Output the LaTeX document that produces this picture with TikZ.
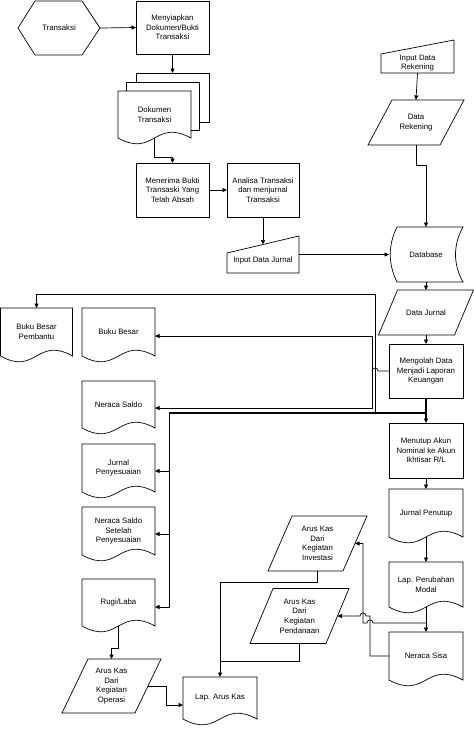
\documentclass[tikz,border=0pt]{standalone}
\usepackage{fontspec}
\setmainfont{Liberation Sans}
\usetikzlibrary{arrows.meta,calc}
\newcommand\FCdoc[1]{\draw (#1.south west) -- (#1.north west) -- (#1.north east) -- (#1.south east) .. controls ($(#1.south)+(0,-20)$) and ($(#1.south)+(0,20)$) .. (#1.south west) -- cycle;}
\newcommand\FCpara[2]{\draw ($(#1.north west)+(#2,0)$) -- (#1.north east) -- ($(#1.south east)+(-#2,0)$) -- (#1.south west) -- cycle;}
\newcommand\FCmanin[3]{\draw (#1.south west) -- ($(#1.north west)+(0,#2)$) -- ($(#1.north east)+(0,-#3)$) -- (#1.south east) -- cycle;}
\newcommand\FCdb[1]{\draw ($(#1.north west)+(8,0)$) -- (#1.north east) .. controls ($(#1.north east)+(-10,18)$) and ($(#1.south east)+(-10,-18)$) .. (#1.south east) -- ($(#1.south west)+(8,0)$) .. controls ($(#1.south west)+(-1,-18)$) and ($(#1.north west)+(-1,18)$) .. ($(#1.north west)+(8,0)$) -- cycle;}
\newcommand\FChex[1]{\draw (#1.west) -- ($(#1.north west)+(17,0)$) -- ($(#1.north east)+(-18,0)$) -- (#1.east) -- ($(#1.south east)+(-18,0)$) -- ($(#1.south west)+(17,0)$) -- cycle;}
\begin{document}
\begin{tikzpicture}[x=1pt,y=-1pt,line width=0.7pt,
  box/.style={rectangle,inner sep=1pt,outer sep=0pt,align=center,font=\fontsize{7.8}{9.6}\selectfont},
  arr/.style={-{Triangle[length=4.5pt,width=4pt]}},
  thickln/.style={line width=1.4pt}]
\useasboundingbox (0,0) rectangle (474,732);
% top left flow
\node[box,minimum width=82,minimum height=54] (trans) at (59,28) {Transaksi};
\FChex{trans}
\node[box,draw,minimum width=73,minimum height=53] (prep) at (172.5,27.5) {Menyiapkan\\Dokumen/Bukti\\Transaksi};
\node[box,draw,fill=white,minimum width=73,minimum height=49] (doc3) at (172.5,97.5) {};
\node[box,draw,fill=white,minimum width=73,minimum height=48] (doc2) at (163,106) {};
\node[box,fill=white,minimum width=73,minimum height=47] (doktr) at (154.5,114.5) {Dokumen\\Transaksi};
\FCdoc{doktr}
\node[box,draw,minimum width=73,minimum height=54] (terima) at (172.5,190) {Menerima Bukti\\Transaski Yang\\Telah Absah};
\node[box,draw,minimum width=72,minimum height=54] (analisa) at (263,190) {Analisa Transaksi\\dan menjurnal\\Transaksi};
\node[box,minimum width=72,minimum height=25] (injurnal) at (263,260.5) {Input Data Jurnal};
\FCmanin{injurnal}{5}{12}
% right column
\node[box,minimum width=73,minimum height=20] (inrek) at (417.5,63) {Input Data\\Rekening};
\FCmanin{inrek}{1}{13}
\node[box,minimum width=96,minimum height=45] (datrek) at (416,122.5) {Data\\Rekening};
\FCpara{datrek}{24}
\node[box,minimum width=74,minimum height=55] (db) at (426,254.5) {Database};
\FCdb{db}
\node[box,minimum width=95,minimum height=45] (datjur) at (426,312.5) {Data Jurnal};
\FCpara{datjur}{19}
\node[box,draw,minimum width=74,minimum height=54] (olah) at (426,371) {Mengolah Data\\Menjadi Laporan\\Keuangan};
\node[box,draw,minimum width=74,minimum height=55] (tutup) at (426,450.5) {Menutup Akun\\Nominal ke Akun\\Ikhtisar R/L};
\node[box,minimum width=74,minimum height=48] (jpenutup) at (426,513) {Jurnal Penutup};
\FCdoc{jpenutup}
\node[box,minimum width=74,minimum height=45] (lapmod) at (426,584.5) {Lap. Perubahan\\Modal};
\FCdoc{lapmod}
\node[box,minimum width=74,minimum height=48] (nsisa) at (426,656) {Neraca Sisa};
\FCdoc{nsisa}
% left column
\node[box,minimum width=72,minimum height=48] (bbp) at (36.5,332) {Buku Besar\\Pembantu};
\FCdoc{bbp}
\node[box,minimum width=73,minimum height=48] (bb) at (118.5,332) {Buku Besar};
\FCdoc{bb}
\node[box,minimum width=73,minimum height=47] (nsaldo) at (118.5,404.5) {Neraca Saldo};
\FCdoc{nsaldo}
\node[box,minimum width=73,minimum height=48] (jpeny) at (118.5,468) {Jurnal\\Penyesuaian};
\FCdoc{jpeny}
\node[box,minimum width=73,minimum height=48] (nssp) at (118.5,531) {Neraca Saldo\\Setelah\\Penyesuaian};
\FCdoc{nssp}
\node[box,minimum width=73,minimum height=47] (rl) at (118.5,602.5) {Rugi/Laba};
\FCdoc{rl}
\node[box,minimum width=99,minimum height=54] (aop) at (111.5,686) {Arus Kas\\Dari\\Kegiatan\\Operasi};
\FCpara{aop}{26}
\node[box,minimum width=74,minimum height=42] (lak) at (220,698) {Lap. Arus Kas};
\FCdoc{lak}
\node[box,minimum width=99,minimum height=55] (inv) at (317.5,543.5) {Arus Kas\\Dari\\Kegiatan\\Investasi};
\FCpara{inv}{24}
\node[box,minimum width=99,minimum height=55] (pend) at (299.5,616) {Arus Kas\\Dari\\Kegiatan\\Pendanaan};
\FCpara{pend}{23}
% connectors
\draw[arr] (trans.east) -- (prep.west);
\draw[arr] (prep.south) -- (doc3.north);
\draw[arr] (doktr.south) -- ++(0,19) -| (terima.north);
\draw[arr] (terima.east) -- (analisa.west);
\draw[arr] (analisa.south) -- ($(injurnal.north)+(0,-3.5)$);
\draw[arr] (injurnal.east |- db.west) -- (db.west);
\draw[arr] (inrek.south) -- (datrek.north);
\draw[arr] (datrek.south) -- ++(0,20) -| (db.north);
\draw[arr] (db.south) -- (datjur.north);
\draw[arr] (datjur.south) -- (olah.north);
\draw[arr,thickln] (olah.south) -- (tutup.north);
\draw[arr] (tutup.south) -- (jpenutup.north);
\draw[arr] (jpenutup.south) -- (lapmod.north);
\draw[arr] (lapmod.south) -- (nsisa.north);
\coordinate (j0) at (426,413);
\coordinate (j1) at (169,413);
\coordinate (j2) at (375,413);
\coordinate (t1) at (375,294);
\draw[thickln] (j0) -- (j1);
\draw[arr] (j2) -- (t1) -| (bbp.north);
\coordinate (h1) at (372,371);
\coordinate (b1) at (372,336);
\coordinate (b2) at (372,408);
\draw (olah.west) -- (378,371) .. controls (378,367) and (372,367) .. (h1);
\draw[arr] (h1) -- (b1) -- (bb.east |- b1);
\draw[arr] (h1) -- (b2) -- (nsaldo.east |- b2);
\coordinate (v1) at (169,471);
\coordinate (v2) at (169,534);
\coordinate (v3) at (169,607);
\draw[arr] (j1) -- (v3) -- (rl.east |- v3);
\draw[arr] (v1) -- (jpeny.east |- v1);
\draw[arr] (v2) -- (nssp.east |- v2);
\draw[arr] (rl.south) -- ++(0,22) -| (aop.north);
\coordinate (a2) at (166,705);
\draw[arr] ($(aop.east)+(-13,0)$) -| (a2) -- (lak.west |- a2);
\draw[arr] (inv.south) -- ++(0,11) -| (lak.north);
\coordinate (m1) at (220,661);
\draw (pend.south) |- (m1);
\coordinate (g0) at (426,623);
\draw[arr] (g0) -- (373,623) .. controls (373,619) and (367,619) .. (367,623) -- (363,623) -- (363,543.5) -- ($(inv.east)+(-12,0)$);
\draw[arr] (nsisa.west) -- (370,656) -- (370,616) -- (366,616) .. controls (366,612) and (360,612) .. (360,616) -- ($(pend.east)+(-11.5,0)$);
\end{tikzpicture}
\end{document}
